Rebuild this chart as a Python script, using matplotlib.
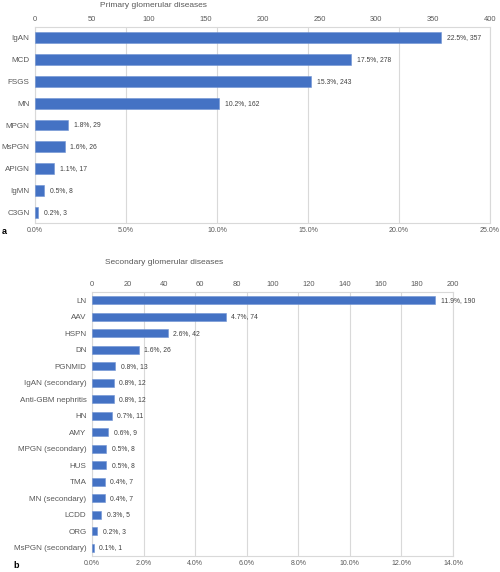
import matplotlib
matplotlib.use('Agg')
import matplotlib.pyplot as plt
import numpy as np

plt.rcParams['font.family'] = ['Liberation Sans', 'DejaVu Sans']

# Primary glomerular diseases
primary_names = ['IgAN', 'MCD', 'FSGS', 'MN', 'MPGN', 'MsPGN', 'APIGN', 'IgMN', 'C3GN']
primary_counts = [357, 278, 243, 162, 29, 26, 17, 8, 3]
primary_pct = [22.5, 17.5, 15.3, 10.2, 1.8, 1.6, 1.1, 0.5, 0.2]

# Secondary glomerular diseases
secondary_names = ['LN', 'AAV', 'HSPN', 'DN', 'PGNMID', 'IgAN (secondary)',
                   'Anti-GBM nephritis', 'HN', 'AMY', 'MPGN (secondary)', 'HUS',
                   'TMA', 'MN (secondary)', 'LCDD', 'ORG', 'MsPGN (secondary)']
secondary_counts = [190, 74, 42, 26, 13, 12, 12, 11, 9, 8, 8, 7, 7, 5, 3, 1]
secondary_pct = [11.9, 4.7, 2.6, 1.6, 0.8, 0.8, 0.8, 0.7, 0.6, 0.5, 0.5, 0.4, 0.4, 0.3, 0.2, 0.1]

bar_color = '#4472C4'
grid_color = '#d9d9d9'
text_gray = '#595959'

fig = plt.figure(figsize=(5, 5.72), dpi=100)


def panel(rect, names, counts, pct, count_max, count_step, pct_max, pct_step):
    # bottom axis: percent, carries the gridlines
    ax = fig.add_axes(rect)
    ax.set_xlim(0, pct_max)
    ax.set_xticks(np.arange(0, pct_max + 0.001, pct_step))
    ax.set_xticklabels(['%.1f%%' % t for t in ax.get_xticks()])
    ax.grid(True, axis='x', color=grid_color, linewidth=0.8)
    ax.set_axisbelow(True)
    y = np.arange(len(names))
    ax.set_yticks(y)
    ax.set_yticklabels(names)
    ax.set_ylim(len(names) - 0.5, -0.5)
    ax.tick_params(axis='x', length=0, labelsize=5, colors=text_gray, pad=3)
    ax.tick_params(axis='y', length=0, labelsize=5.8, colors=text_gray, pad=4)
    for s in ax.spines.values():
        s.set_color(grid_color)
        s.set_linewidth(0.8)

    # top axis: counts, bars drawn here
    ax_top = ax.twiny()
    ax_top.set_xlim(0, count_max)
    ax_top.set_xticks(np.arange(0, count_max + 1, count_step))
    ax_top.tick_params(axis='x', length=0, labelsize=5.4, colors=text_gray, pad=3)
    for s in ax_top.spines.values():
        s.set_visible(False)
    ax_top.barh(y, counts, height=0.5, color=bar_color,
                edgecolor='#6f93d3', linewidth=0.4)
    for yi, c, p in zip(y, counts, pct):
        ax_top.annotate('%.1f%%, %d' % (p, c), xy=(c, yi), xytext=(4, 0),
                        textcoords='offset points', va='center', ha='left',
                        fontsize=4.9, color='#404040')
    return ax


panel([0.07, 0.6101, 0.91, 0.3427], primary_names, primary_counts, primary_pct,
      400, 50, 25, 5)
panel([0.184, 0.028, 0.722, 0.4615], secondary_names, secondary_counts, secondary_pct,
      200, 20, 14, 2)

fig.text(0.2, 0.991, 'Primary glomerular diseases', fontsize=6, color=text_gray,
         ha='left', va='center')
fig.text(0.21, 1 - 263 / 572, 'Secondary glomerular diseases', fontsize=6,
         color=text_gray, ha='left', va='center')
fig.text(0.004, 1 - 232 / 572, 'a', fontsize=6.5, fontweight='bold', ha='left', va='center')
fig.text(0.026, 1 - 565 / 572, 'b', fontsize=6.5, fontweight='bold', ha='left', va='center')

fig.savefig('out.png', dpi=100)
